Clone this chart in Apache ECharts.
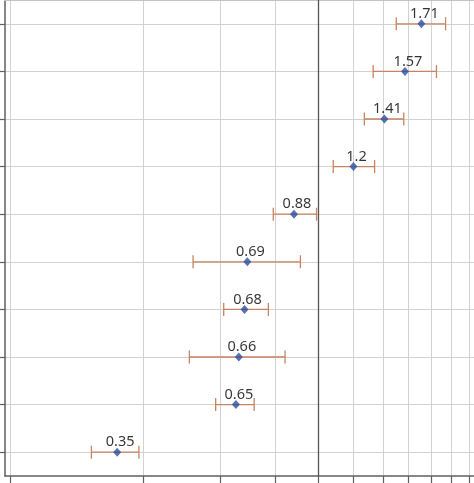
<!DOCTYPE html>
<html>
<head>
<meta charset="utf-8">
<script src="https://cdn.jsdelivr.net/npm/echarts@6/dist/echarts.min.js"></script>
<style>html,body{margin:0;padding:0;background:#fff;}#c{width:474px;height:483px;}</style>
</head>
<body>
<div id="c"></div>
<script>
// Rows listed top to bottom
const categories = ['Row 1','Row 2','Row 3','Row 4','Row 5','Row 6','Row 7','Row 8','Row 9','Row 10'];
const estimates = [1.71, 1.57, 1.41, 1.2, 0.88, 0.69, 0.68, 0.66, 0.65, 0.35];
const lowerCI = [1.50, 1.33, 1.27, 1.08, 0.79, 0.52, 0.61, 0.51, 0.585, 0.306];
const upperCI = [1.94, 1.85, 1.56, 1.34, 0.99, 0.91, 0.77, 0.84, 0.715, 0.392];
const xTickValues = [0.2, 0.4, 0.6, 0.8, 1, 1.2, 1.4, 1.6, 1.8, 2.0, 2.2];
const referenceValue = 1;

const chart = echarts.init(document.getElementById('c'));
const pointData = estimates.map((v, i) => [v, i]);
const ciData = estimates.map((v, i) => [lowerCI[i], upperCI[i], i]);

chart.setOption({
  animation: false,
  grid: { left: 5, right: 0, top: 0, bottom: 7, containLabel: false },
  xAxis: [{
    type: 'log',
    min: 0.195,
    max: 2.25,
    axisLine: { show: true, lineStyle: { color: '#5f5f5f', width: 1.5 } },
    axisTick: { show: true, length: 7, customValues: xTickValues, lineStyle: { color: '#5f5f5f', width: 1.2 } },
    axisLabel: { show: false, customValues: xTickValues },
    splitLine: { show: true, lineStyle: { color: '#d2d2d2', width: 1 } }
  }, {
    type: 'log',
    position: 'top',
    min: 0.195,
    max: 2.25,
    axisLine: { show: true, lineStyle: { color: '#c4c4c4', width: 2 } },
    axisTick: { show: false },
    axisLabel: { show: false },
    splitLine: { show: false }
  }],
  yAxis: {
    type: 'category',
    data: categories,
    inverse: true,
    axisLine: { show: true, lineStyle: { color: '#5f5f5f', width: 1.5 } },
    axisTick: { show: true, alignWithLabel: true, length: 5, lineStyle: { color: '#5f5f5f', width: 1.2 } },
    axisLabel: { show: false },
    splitLine: { show: true, alignWithLabel: true, lineStyle: { color: '#d2d2d2', width: 1 } }
  },
  series: [{
    type: 'custom',
    xAxisIndex: 0,
    data: ciData,
    encode: { x: [0, 1], y: 2 },
    z: 3,
    renderItem: function (params, api) {
      const a = api.coord([api.value(0), api.value(2)]);
      const b = api.coord([api.value(1), api.value(2)]);
      const h = 6.5;
      const style = { stroke: '#c8835f', lineWidth: 1.3 };
      return {
        type: 'group',
        children: [
          { type: 'line', shape: { x1: a[0], y1: a[1], x2: b[0], y2: b[1] }, style: style },
          { type: 'line', shape: { x1: a[0], y1: a[1] - h, x2: a[0], y2: a[1] + h }, style: style },
          { type: 'line', shape: { x1: b[0], y1: b[1] - h, x2: b[0], y2: b[1] + h }, style: style }
        ]
      };
    }
  }, {
    type: 'scatter',
    xAxisIndex: 0,
    data: pointData,
    symbol: 'diamond',
    symbolSize: [8, 9],
    z: 5,
    itemStyle: { color: '#2c4f9e' },
    label: {
      show: true,
      position: 'top',
      distance: 1,
      offset: [3, 3],
      color: '#000',
      fontFamily: 'Noto Sans',
      fontSize: 14.5,
      formatter: p => String(estimates[p.dataIndex])
    },
    markLine: {
      silent: true,
      symbol: 'none',
      label: { show: false },
      lineStyle: { color: '#555555', width: 1.3, type: 'solid' },
      data: [{ xAxis: referenceValue }]
    }
  }]
});
</script>
</body>
</html>
